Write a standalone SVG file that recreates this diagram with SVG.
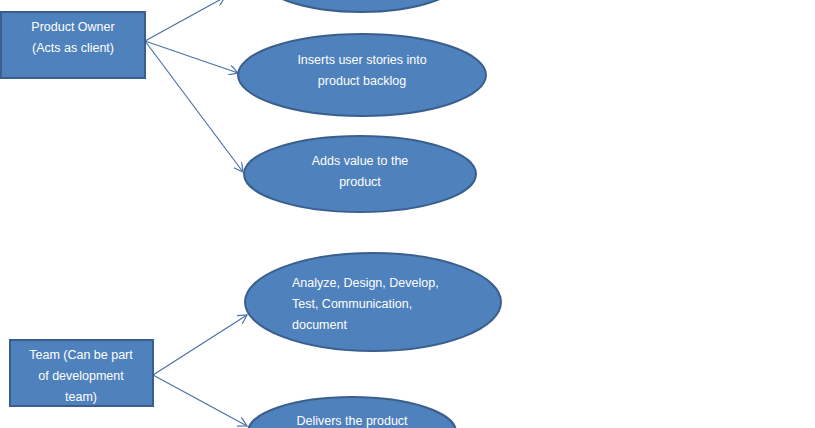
<svg xmlns="http://www.w3.org/2000/svg" width="815" height="428" viewBox="0 0 815 428">
<style>
.n{fill:#4f81bd;stroke:#3a5f8c;stroke-width:2}
.t{fill:#fff;font-family:"Liberation Sans",Arial,sans-serif;font-size:12.5px;text-anchor:middle}
.c{stroke:#4a72a8;stroke-width:1.2;fill:none;marker-end:url(#a)}
</style>
<defs>
<marker id="a" markerWidth="10" markerHeight="10" refX="9" refY="5" orient="auto" markerUnits="userSpaceOnUse"><path d="M0,0 L9,5 L0,10" fill="none" stroke="#4a72a8" stroke-width="1.2"/></marker>
<clipPath id="tc"><rect x="10" y="340" width="143" height="64"/></clipPath>
</defs>
<rect width="815" height="428" fill="#fff"/>
<g id="connectors">
<path class="c" d="M145,41 L225,-3"/>
<path class="c" d="M145,41 L238,73"/>
<path class="c" d="M145,41 L243,172"/>
<path class="c" d="M153,375 L247,315"/>
<path class="c" d="M153,375 L247,426"/>
</g>
<g id="po"><rect class="n" x="1" y="12" width="144" height="66"/>
<text class="t" x="73" y="31">Product Owner</text><text class="t" x="73" y="52">(Acts as client)</text></g>
<g id="e1"><ellipse class="n" cx="361" cy="-22" rx="100" ry="34"/></g>
<g id="e2"><ellipse class="n" cx="362" cy="75" rx="124" ry="41"/>
<text class="t" x="362" y="64">Inserts user stories into</text><text class="t" x="362" y="85">product backlog</text></g>
<g id="e3"><ellipse class="n" cx="360" cy="174" rx="116" ry="38"/>
<text class="t" x="360" y="165">Adds value to the</text><text class="t" x="360" y="186">product</text></g>
<g id="e4"><ellipse class="n" cx="373" cy="302" rx="128" ry="49"/>
<text class="t" x="292" y="287" text-anchor="start" style="text-anchor:start">Analyze, Design, Develop,</text>
<text class="t" x="292" y="308" style="text-anchor:start">Test, Communication,</text>
<text class="t" x="292" y="329" style="text-anchor:start">document</text></g>
<g id="e5"><ellipse class="n" cx="352" cy="432" rx="104" ry="35"/>
<text class="t" x="352" y="425">Delivers the product</text></g>
<g id="team"><rect class="n" x="10" y="340" width="143" height="66"/>
<g clip-path="url(#tc)"><text class="t" x="81" y="359">Team (Can be part</text><text class="t" x="81" y="380">of development</text><text class="t" x="81" y="401">team)</text></g></g>
</svg>
